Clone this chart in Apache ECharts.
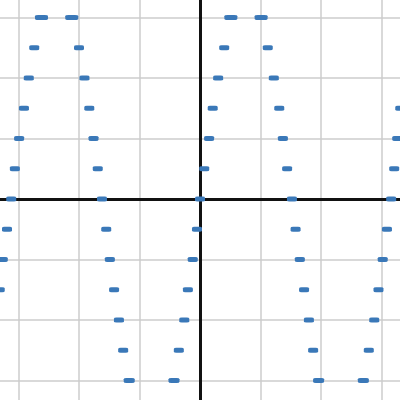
<!DOCTYPE html>
<html><head><meta charset="utf-8">
<script src="https://cdn.jsdelivr.net/npm/echarts@6/dist/echarts.min.js"></script>
<style>
html,body{margin:0;padding:0;background:#fff;overflow:hidden;width:400px;height:400px}
#main{position:absolute;left:-42px;top:-43px;width:484px;height:484px}
</style>
</head><body><div id="main"></div>
<script>
// rows of the pattern, top to bottom
var rowY = [3, 2.5, 2, 1.5, 1, 0.5, 0, -0.5, -1, -1.5, -2, -2.5, -3];
// x positions of each curve, per row (null = none)
var leftOuter  = [-2.62, -2.74, -2.83, -2.91, -2.99, -3.06, -3.12, -3.19, -3.26, -3.31, null, null, null];
var leftInner  = [-2.12, -2.00, -1.91, -1.83, -1.76, -1.69, -1.62, -1.55, -1.49, -1.42, -1.34, -1.27, -1.17];
var midUpper   = [0.51, 0.40, 0.30, 0.21, 0.15, 0.07, 0, -0.05, -0.12, -0.20, -0.26, -0.35, -0.43];
var rightInner = [1.01, 1.12, 1.22, 1.31, 1.37, 1.44, 1.52, 1.58, 1.65, 1.72, 1.80, 1.87, 1.96];
var rightOuter = [null, null, null, 3.31, 3.26, 3.21, 3.16, 3.09, 3.02, 2.95, 2.88, 2.79, 2.70];

var points = [];
[leftOuter, leftInner, midUpper, rightInner, rightOuter].forEach(function (arr) {
    arr.forEach(function (x, i) {
        if (x === null) return;
        points.push({
            value: [x, rowY[i]],
            symbolSize: i === 0 ? [13, 5] : (i === rowY.length - 1 ? [11, 5] : [10, 5])
        });
    });
});

var chart = echarts.init(document.getElementById('main'));
chart.setOption({
    animation: false,
    grid: { left: 0, top: 0, right: 0, bottom: 0 },
    xAxis: {
        type: 'value', min: -4, max: 4, interval: 1,
        axisLine: { onZero: true, lineStyle: { color: '#111', width: 3 } },
        axisTick: { show: false }, axisLabel: { show: false },
        splitLine: { lineStyle: { color: '#ccc', width: 1.5 } }
    },
    yAxis: {
        type: 'value', min: -4, max: 4, interval: 1,
        axisLine: { onZero: true, lineStyle: { color: '#111', width: 3 } },
        axisTick: { show: false }, axisLabel: { show: false },
        splitLine: { lineStyle: { color: '#ccc', width: 1.5 } }
    },
    series: [{
        type: 'scatter',
        symbol: 'roundRect',
        data: points,
        itemStyle: { color: '#3a78b8', opacity: 1 }
    }]
});
</script></body></html>
